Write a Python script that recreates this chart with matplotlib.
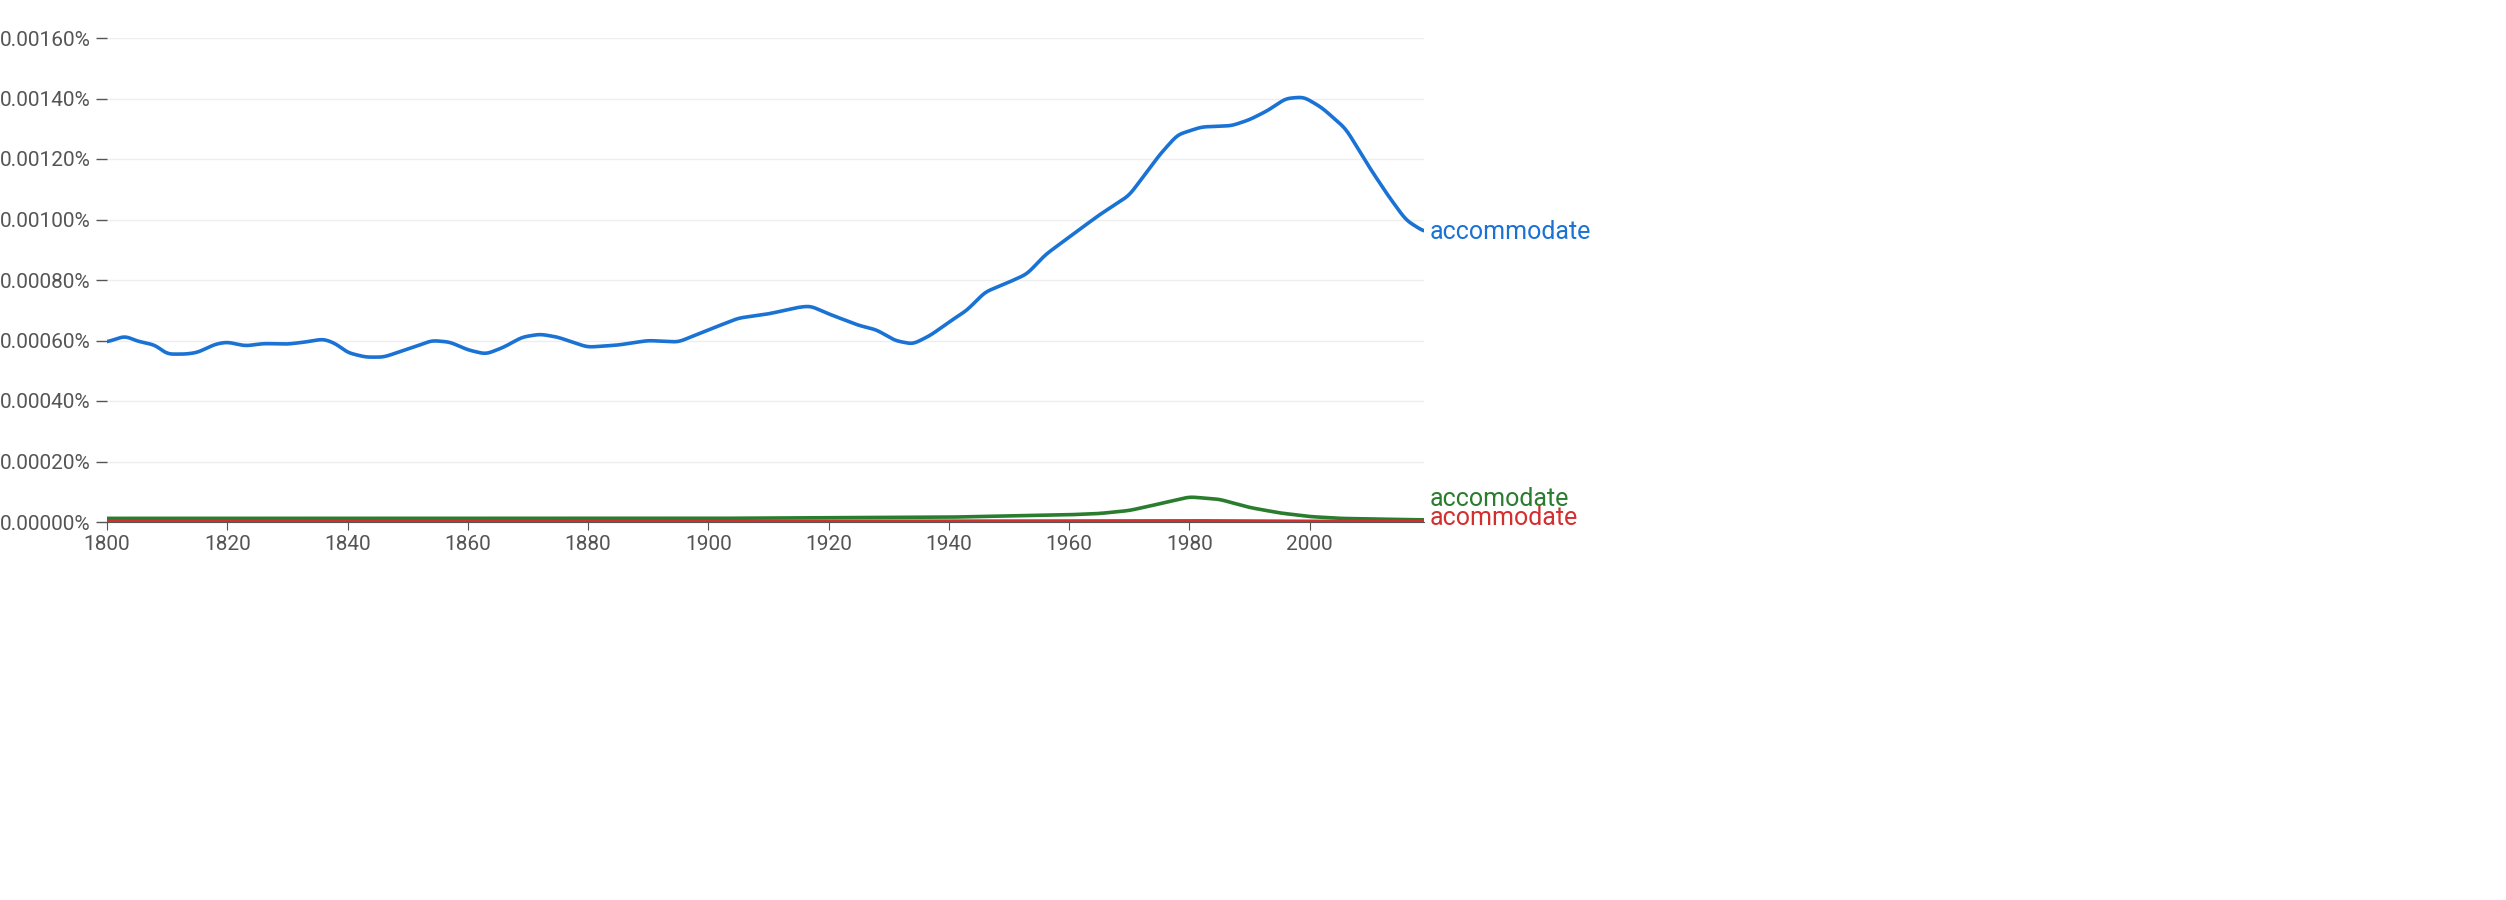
import matplotlib
matplotlib.use("Agg")
import matplotlib.pyplot as plt
import numpy as np

plt.rcParams['font.family'] = ['Roboto', 'DejaVu Sans']

blue_years = [1800,1803,1805,1808,1810,1813,1815,1818,1820,1823,1826,1830,1833,1836,1838,1840,1843,1846,1849,1852,1854,1857,1860,1863,1866,1869,1872,1875,1878,1880,1885,1890,1895,1900,1905,1910,1915,1917,1920,1925,1928,1931,1934,1937,1940,1943,1946,1950,1953,1956,1960,1965,1970,1975,1978,1982,1987,1990,1993,1996,1999,2002,2006,2010,2013,2016,2019]
blue_vals = [0.000595,0.000615,0.000598,0.000585,0.000555,0.000555,0.00056,0.000588,0.000595,0.000582,0.00059,0.000588,0.000595,0.000605,0.00059,0.00056,0.000545,0.000545,0.000565,0.000585,0.0006,0.000595,0.000569,0.000555,0.000578,0.000611,0.000621,0.000611,0.00059,0.000578,0.000585,0.0006,0.000595,0.000635,0.000674,0.000688,0.00071,0.000714,0.000688,0.00065,0.000635,0.0006,0.000588,0.000618,0.000661,0.0007,0.00076,0.000793,0.00082,0.000883,0.000942,0.001015,0.00108,0.001213,0.00128,0.001306,0.00131,0.00133,0.00136,0.0014,0.001405,0.00137,0.0013,0.00117,0.00108,0.000998,0.00096]

green_years = [1800,1850,1900,1940,1950,1960,1965,1970,1975,1980,1985,1990,1995,2000,2005,2010,2019]
green_vals = [0.000012,0.000012,0.000012,0.000016,0.00002,0.000024,0.000028,0.000038,0.00006,0.000083,0.000075,0.000048,0.00003,0.000018,0.000012,0.00001,0.000007]

red_years = [1800,1900,1960,1980,2000,2019]
red_vals = [0.000002,0.000002,0.000003,0.000004,0.000002,0.000002]

labels = ['accommodate', 'accomodate', 'acommodate']
colors = ['#1a73d4', '#2a7d2e', '#d32f2f']

fig = plt.figure(figsize=(25.06, 9), dpi=100)
ax = fig.add_axes([107/2506, 1-522/900, (1424-107)/2506, (522-38)/900])

def smooth(x, y):
    xf = np.linspace(x[0], x[-1], 2000)
    yf = np.interp(xf, x, y)
    k = 15
    w = np.hanning(2 * k + 1); w /= w.sum()
    yp = np.pad(yf, k, mode='edge')
    return xf, np.convolve(yp, w, mode='valid')

series = [(blue_years, blue_vals), (green_years, green_vals), (red_years, red_vals)]
for (xs, vs), c in zip(series, colors):
    xf, yf = smooth(np.array(xs, float), np.array(vs, float))
    ax.plot(xf, yf, color=c, lw=2.6, solid_capstyle='round')

ax.set_xlim(1800, 2019)
ax.set_ylim(0, 0.0016)
ax.set_yticks(np.arange(0, 0.00161, 0.0002))
ax.set_yticklabels([f"{v:.5f}%" for v in np.arange(0, 0.00161, 0.0002)])
ax.set_xticks(range(1800, 2001, 20))
ax.grid(axis='y', color='#eeeeee', lw=1)
ax.set_axisbelow(True)
for s in ['top', 'right', 'left']:
    ax.spines[s].set_visible(False)
ax.spines['bottom'].set_color('#555555')
ax.tick_params(axis='y', length=8, color='#555555', labelsize=15, labelcolor='#555555', pad=4, width=1)
ax.tick_params(axis='x', length=6, color='#555555', labelsize=15, labelcolor='#555555')

ends = [0.00096, 0.000075, 0.000012]
for lab, c, yv in zip(labels, colors, ends):
    ax.text(2020, yv, lab, color=c, fontsize=18, va='center', ha='left', clip_on=False)

fig.savefig('out.png', dpi=100)
